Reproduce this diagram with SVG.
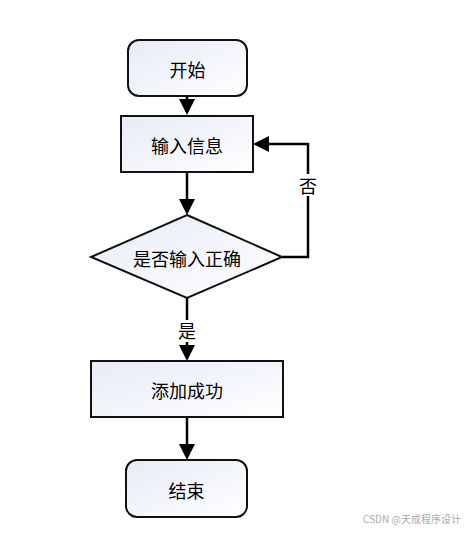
<svg xmlns="http://www.w3.org/2000/svg" width="464" height="535" viewBox="0 0 464 535">
<defs>
<linearGradient id="g" x1="0" y1="0" x2="1" y2="1">
<stop offset="0" stop-color="#e6ebf6"/>
<stop offset="1" stop-color="#ffffff"/>
</linearGradient>
</defs>
<style>
.n{fill:url(#g);stroke:#111;stroke-width:2}
.t{font-family:"Noto Sans CJK SC","Noto Sans",sans-serif;font-size:18px;fill:#000;text-anchor:middle;dominant-baseline:central}
.c{fill:none;stroke:#000;stroke-width:2.5}
.h{fill:#000;stroke:none}
.lb{fill:#fff}
</style>
<rect width="464" height="535" fill="#fff"/>
<g id="connectors">
<line class="c" x1="187" y1="96" x2="187" y2="102"/>
<polygon class="h" points="179,99 195,99 187,115"/>
<line class="c" x1="187" y1="172" x2="187" y2="200"/>
<polygon class="h" points="179,199 195,199 187,215"/>
<polyline class="c" points="282,257 308,257 308,144 268,144"/>
<polygon class="h" points="269,136 269,152 253,144"/>
<rect class="lb" x="297" y="174" width="22" height="22"/>
<text class="t" x="308" y="185">否</text>
<line class="c" x1="187" y1="298" x2="187" y2="348"/>
<rect class="lb" x="176" y="320" width="22" height="22"/>
<text class="t" x="187" y="330">是</text>
<polygon class="h" points="179,345 195,345 187,361"/>
<line class="c" x1="187" y1="417" x2="187" y2="446"/>
<polygon class="h" points="179,444 195,444 187,460"/>
</g>
<g id="start">
<rect class="n" x="128" y="40" width="119" height="56" rx="11"/>
<text class="t" x="187.5" y="69">开始</text>
</g>
<g id="input">
<rect class="n" x="121" y="116" width="132" height="56"/>
<text class="t" x="187" y="145">输入信息</text>
</g>
<g id="check">
<polygon class="n" points="187,215 282,257 187,298 91,257"/>
<text class="t" x="187" y="258">是否输入正确</text>
</g>
<g id="add">
<rect class="n" x="91" y="361" width="192" height="56"/>
<text class="t" x="187" y="390">添加成功</text>
</g>
<g id="end">
<rect class="n" x="126" y="460" width="121" height="57" rx="11"/>
<text class="t" x="186.5" y="490">结束</text>
</g>
<text x="412" y="523" style="font-family:'Noto Sans CJK SC','Noto Sans',sans-serif;font-size:10px;fill:#aaa;text-anchor:middle">CSDN @天成程序设计</text>
</svg>
